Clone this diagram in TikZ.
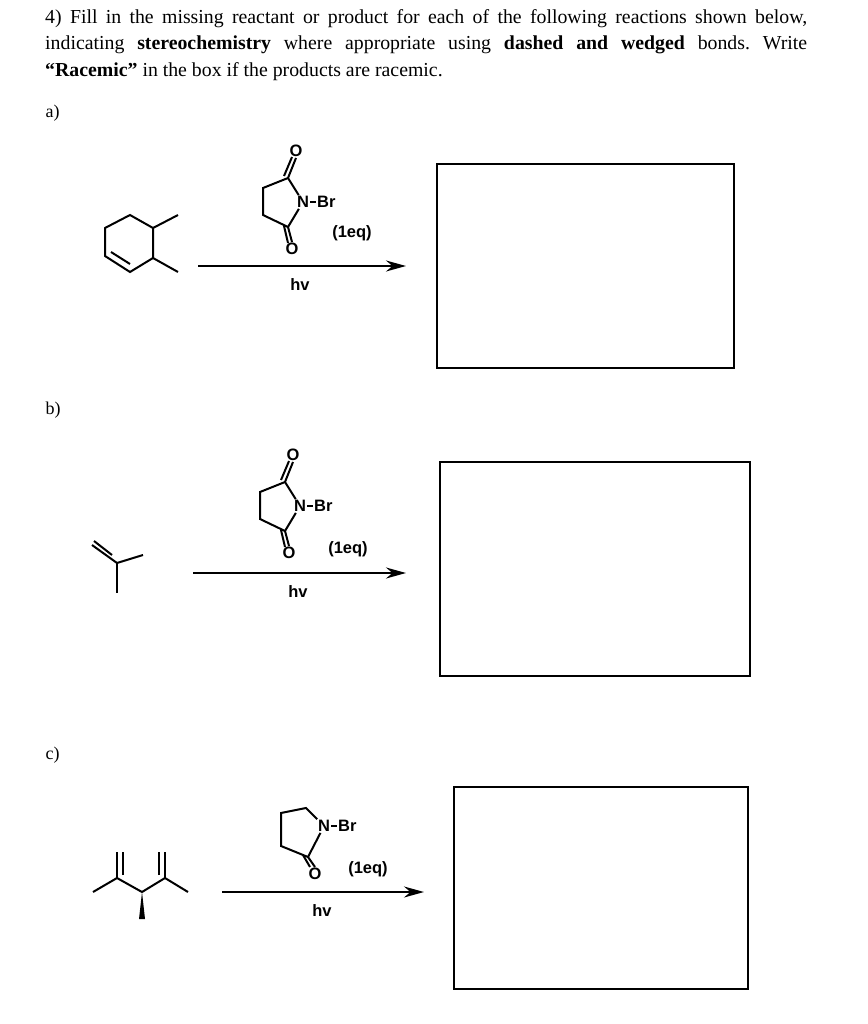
\documentclass[tikz,border=0pt]{standalone}
\usepackage{fontspec}
\setmainfont{Liberation Serif}
\newfontfamily\chemf{Liberation Sans}
\usetikzlibrary{arrows.meta,calc}
\frenchspacing
\newcommand{\nbsring}[3]{%
 \begin{scope}[shift={(#1,#2)}]
 \draw[bond] (-15,-20) -- (-40,-10) -- (-40,17) -- (-15,29);
 \node[atm] (n#3) at (0,4) {N};
 \node[atm,anchor=west] (br#3) at (13,4) {Br};
 \draw[bond] (-15,-20) -- (n#3);
 \draw[bond] (-15,29) -- (n#3);
 \draw[bond] (n#3.east) -- (br#3.west);
 \node[atm] (ot#3) at (-7,-47) {O};
 \node[atm] (ob#3) at (-11,51) {O};
 \draw[bond] (-15,-20) -- (ot#3.south);
 \draw[bond] (-19,-22) -- ($(ot#3.south)+(-4,-1)$);
 \draw[bond] (-15,29) -- (ob#3.north);
 \draw[bond] (-19,28) -- ($(ob#3.north)+(-4,1)$);
 \end{scope}}
\begin{document}
\begin{tikzpicture}[x=1pt,y=-1pt,
  bond/.style={line width=2pt},
  atm/.style={font=\chemf\bfseries\fontsize{16.5}{16.5}\selectfont,inner sep=1pt},
  rx/.style={line width=2pt,-{Stealth[length=20pt,width=11pt]}},
  ansbox/.style={draw,line width=1.6pt},
  lab/.style={font=\fontsize{18}{20}\selectfont,anchor=west}]
\useasboundingbox (0,0) rectangle (867,1024);
\node[anchor=north west,text width=762,align=justify,inner sep=0,font=\fontsize{19.8}{26.5}\selectfont] (hdr) at (45,9)
{\hyphenpenalty=10000 4) Fill in the missing reactant or product for each of the following reactions shown below,\linebreak indicating \textbf{stereochemistry} where appropriate using \textbf{dashed and wedged} bonds. Write\linebreak \textbf{``Racemic''} in the box if the products are racemic.};
\node[lab] (la) at (42,113) {a)};
\node[lab] (lb) at (42,410) {b)};
\node[lab] (lc) at (42,755) {c)};
% a) cyclohexene
\draw[bond] (130,215) -- (105,228) -- (105,256) -- (130,272) -- (153,258) -- (153,228) -- cycle;
\draw[bond] (111,252) -- (130,264);
\draw[bond] (153,228) -- (178,215);
\draw[bond] (153,258) -- (178,272);
\nbsring{303}{198}{a}
\node[atm] (eqa) at (352,233) {(1eq)};
\coordinate (a1) at (198,266); \coordinate (a2) at (406,266);
\draw[rx] (a1) -- (a2);
\node[atm] (hva) at (300,285) {hv};
\node[ansbox,minimum width=297,minimum height=204,anchor=north west] (boxa) at (436,163) {};
% b) isobutylene
\draw[bond] (117,563) -- (143,555);
\draw[bond] (117,563) -- (117,593);
\draw[bond] (117,563) -- (92,545);
\draw[bond] (112,555) -- (94,541);
\nbsring{300}{502}{b}
\node[atm] (eqb) at (348,549) {(1eq)};
\coordinate (b1) at (193,573); \coordinate (b2) at (406,573);
\draw[rx] (b1) -- (b2);
\node[atm] (hvb) at (298,592) {hv};
\node[ansbox,minimum width=310,minimum height=214,anchor=north west] (boxb) at (439,461) {};
% c) diene
\draw[bond] (93,892) -- (117,878) -- (142,892) -- (165,878) -- (188,892);
\draw[bond] (117,878) -- (117,852);
\draw[bond] (123,875) -- (123,852);
\draw[bond] (165,878) -- (165,852);
\draw[bond] (159,875) -- (159,852);
\fill (142,892) -- (139,919) -- (145,919) -- cycle;
% N-bromopyrrolidinone
\node[atm] (nc) at (324,826) {N};
\node[atm,anchor=west] (brc) at (337,826) {Br};
\draw[bond] (nc.east) -- (brc.west);
\draw[bond] (nc) -- (306,808) -- (281,813) -- (281,846) -- (308,857) -- (nc);
\node[atm] (oc) at (315,874) {O};
\draw[bond] (308,857) -- (oc.north);
\draw[bond] (303,855) -- ($(oc.north)+(-5,0)$);
\node[atm] (eqc) at (368,869) {(1eq)};
\coordinate (c1) at (222,892); \coordinate (c2) at (424,892);
\draw[rx] (c1) -- (c2);
\node[atm] (hvc) at (322,911) {hv};
\node[ansbox,minimum width=294,minimum height=202,anchor=north west] (boxc) at (453,786) {};
\end{tikzpicture}
\end{document}
